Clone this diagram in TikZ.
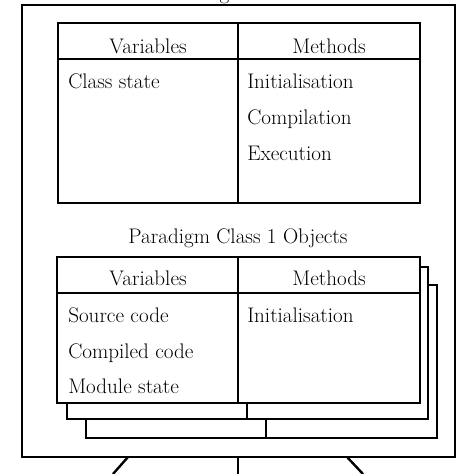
\documentclass[tikz,border=0pt]{standalone}
\usepackage{tikz}

\begin{document}
\begin{tikzpicture}[x=0.025cm,y=-0.025cm,
   box/.style={line width=1.7pt, fill=white},
   rule/.style={line width=1.7pt},
   txt/.style={font=\fontsize{15}{18}\selectfont, inner sep=0pt}]
   \useasboundingbox (0,0) rectangle (474,474);

   % outer paradigm box, title cut off at the top
   \node[txt, anchor=base] (title) at (238,-1) {Paradigm Class 1};
   \draw[box] (22,5) rectangle (455,457);

   % class table
   \draw[box] (58,23) rectangle (420,203);
   \draw[rule] (58,59) -- (420,59);
   \draw[rule] (238,23) -- (238,203);
   \node[txt, anchor=base] (cvar) at (148,53) {Variables};
   \node[txt, anchor=base] (cmeth) at (329,53) {Methods};
   \node[txt, anchor=base west] (cstate) at (68,88) {Class state};
   \node[txt, anchor=base west] (cinit) at (247,88) {Initialisation};
   \node[txt, anchor=base west] (ccomp) at (247,124) {Compilation};
   \node[txt, anchor=base west] (cexec) at (247,160) {Execution};

   \node[txt, anchor=base] (objtitle) at (238,243) {Paradigm Class 1 Objects};

   % stacked object tables, back to front
   \foreach \l/\t/\r/\b/\m in {86/285/437/438/266, 67/267/428/419/247}{
      \draw[box] (\l,\t) rectangle (\r,\b);
      \draw[rule] (\m,\t) -- (\m,\b);
   }
   \draw[box] (57,257) rectangle (420,403);
   \draw[rule] (57,293) -- (420,293);
   \draw[rule] (238,257) -- (238,403);
   \node[txt, anchor=base] (ovar) at (148,285) {Variables};
   \node[txt, anchor=base] (ometh) at (329,285) {Methods};
   \node[txt, anchor=base west] (osrc) at (68,322) {Source code};
   \node[txt, anchor=base west] (ocomp) at (68,358) {Compiled code};
   \node[txt, anchor=base west] (omod) at (68,393) {Module state};
   \node[txt, anchor=base west] (oinit) at (247,322) {Initialisation};

   % links leaving the box
   \coordinate (lefttop) at (128,457);
   \coordinate (leftend) at (113,474);
   \coordinate (midtop) at (238,457);
   \coordinate (midend) at (238,474);
   \coordinate (righttop) at (347,457);
   \coordinate (rightend) at (363,474);
   \draw[rule] (lefttop) -- (leftend);
   \draw[rule] (midtop) -- (midend);
   \draw[rule] (righttop) -- (rightend);
\end{tikzpicture}
\end{document}
